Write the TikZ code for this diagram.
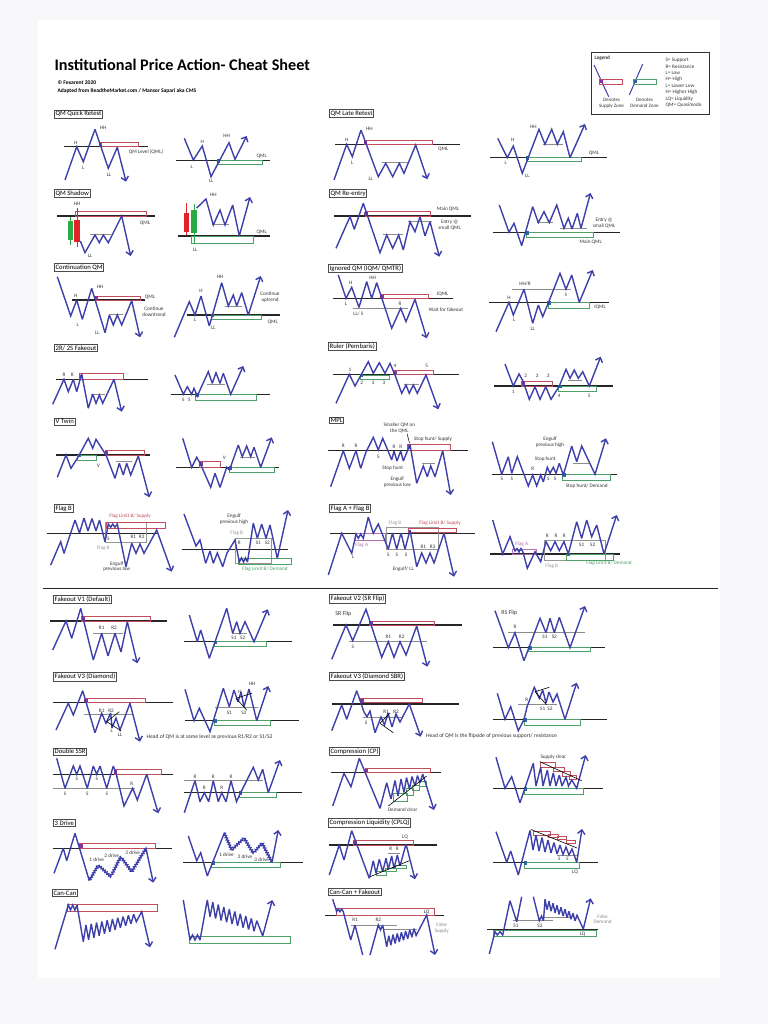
\documentclass[tikz,border=0pt]{standalone}
\usepackage{fontspec}
\setmainfont{Carlito}
\usetikzlibrary{arrows.meta,decorations.pathmorphing}

\definecolor{pblue}{RGB}{62,64,170}
\definecolor{supred}{RGB}{192,78,92}
\definecolor{demgrn}{RGB}{78,160,104}
\definecolor{qmpur}{RGB}{140,50,150}
\definecolor{qmteal}{RGB}{40,105,150}
\definecolor{flaga}{RGB}{178,110,178}
\definecolor{flagb}{RGB}{150,150,150}
\definecolor{cgreen}{RGB}{40,170,70}
\definecolor{cred}{RGB}{225,35,40}
\definecolor{pagebg}{RGB}{248,248,250}

\begin{document}
\begin{tikzpicture}[x=1pt, y=-1pt,
    price/.style={pblue, line width=1.4pt, miter limit=3},
    arr/.style={-{Straight Barb[length=4pt,width=7.5pt]}},
    level/.style={black!85, line width=1.3pt},
    guide/.style={black!45, line width=0.9pt},
    supply/.style={supred, line width=0.8pt},
    demand/.style={demgrn, line width=0.8pt},
    flagA/.style={flaga, line width=0.8pt},
    flagB/.style={flagb, line width=0.8pt},
    qms/.style={fill=qmpur},
    qmd/.style={fill=qmteal},
    trend/.style={black, line width=0.6pt},
    wig/.style={decoration={zigzag, amplitude=0.9pt, segment length=2.6pt}},
    lbl/.style={font=\fontsize{5.2}{5.6}\selectfont, inner sep=0.4pt, text=black!80},
    note/.style={lbl, align=center},
    tag/.style={draw=black!70, line width=0.9pt, font=\fontsize{6.7}{7}\selectfont, inner sep=1.2pt, anchor=west}]

\useasboundingbox (0,0) rectangle (768,1024);
\fill[pagebg] (0,0) rectangle (768,1024);
\fill[white] (38,20) rectangle (720,978);

% Title
\node (title) [anchor=west, font=\fontsize{16.2}{18}\selectfont\bfseries] at (51,65) {Institutional Price Action- Cheat Sheet};
\node (copyr) [anchor=west, font=\fontsize{5.6}{6}\selectfont\bfseries] at (54,82.5) {© Fexarent 2020};
\node (adapt) [anchor=west, font=\fontsize{5.5}{6}\selectfont\bfseries] at (54,91) {Adapted from ReadtheMarket.com / Mansor Sapari aka CMS};

% Legend
\draw[black!80, line width=0.8pt] (591.7,52.7) rectangle (709,114);
\node (legT) [lbl, anchor=west, font=\fontsize{5.2}{5.6}\selectfont\bfseries] at (594,58.5) {Legend};
\draw[price, line width=1pt] (594,65) -- (608.7,96.7);
\draw[supply] (599.3,79.3) rectangle (622.7,84.3);
\fill[qms] (600,80) rectangle +(3,3.5);
\draw[price, line width=1pt] (629.3,95) -- (642.7,64);
\draw[demand] (633.3,79.3) rectangle (656,84.7);
\fill[qmd] (634,80) rectangle +(3,3.5);
\node (legS) [note, font=\fontsize{5}{6}\selectfont] at (611.5,103) {Denotes\\Supply Zone};
\node (legD) [note, font=\fontsize{5}{6}\selectfont] at (644.5,103) {Denotes\\Demand Zone};
\node (legK) [lbl, anchor=north west, align=left, font=\fontsize{5.2}{6.4}\selectfont] at (665,57.8)
  {S= Support\\R= Resistance\\L= Low\\H= High\\L= Lower Low\\H= Higher High\\LQ= Liquidity\\QM= Quasimodo};

% QM Quick Retest
\node (tagQR) [tag] at (54,114) {QM Quick Retest};
\draw[level] (64,146.7) -- (148,146.7);
\draw[supply] (99.3,142.7) rectangle (138.3,146.7);
\fill[qms] (98.5,143.2) rectangle +(3.5,3.5);
\draw[price,arr] (65,180) -- (76.7,146.7) -- (83.3,161.7) -- (95,129.3) -- (108.3,168.3) -- (117.3,147.3) -- (126,181.7);
\node (qrH) [lbl] at (75.7,142.5) {H};
\node (qrL) [lbl] at (83.3,168) {L};
\node (qrHH) [lbl] at (103,128.3) {HH};
\node (qrLL) [lbl] at (109,175) {LL};
\node (qrQML) [lbl] at (146,151.7) {QM Level (QML)};

\draw[level] (176,160.7) -- (270,160.7);
\draw[demand] (217.7,160.7) rectangle (262.7,164.3);
\fill[qmd] (216.7,159.5) rectangle +(3.5,3.5);
\draw[price,arr] (184.3,138.3) -- (193.3,160) -- (202.3,146) -- (211,176.7) -- (229,142.7) -- (235,159.3) -- (246.7,136);
\node (qr2L) [lbl] at (191.7,167.3) {L};
\node (qr2H) [lbl] at (202.3,142) {H};
\node (qr2LL) [lbl] at (211,180.5) {LL};
\node (qr2HH) [lbl] at (226.7,136) {HH};
\node (qr2QML) [lbl] at (261.7,156) {QML};

% QM Late Retest
\node (tagLR) [tag] at (329,113.5) {QM Late Retest};
\draw[level] (335,144.3) -- (460,144.3);
\draw[supply] (364.3,140.7) rectangle (432.7,144.3);
\fill[qms] (363.5,140.8) rectangle +(3.5,3.5);
\draw[guide] (381.7,162.7) -- (408.3,162.7);
\draw[price,arr] (334,180) -- (346.7,144.3) -- (352.3,156.7) -- (361,130) -- (378.3,176.7) -- (385.7,163.3) -- (392.7,176.7) -- (399.3,163.3) -- (404,173.3) -- (415.7,145) -- (427.3,179.3);
\node (lrH) [lbl] at (346.7,139.5) {H};
\node (lrL) [lbl] at (352.3,162.7) {L};
\node (lrHH) [lbl] at (369.3,129.3) {HH};
\node (lrLL) [lbl] at (370.7,179.3) {LL};
\node (lrQML) [lbl] at (443.3,149.3) {QML};

\draw[level] (490,157.7) -- (606.7,157.7);
\draw[demand] (526.7,157.7) rectangle (581.7,161.7);
\fill[qmd] (525.5,156.5) rectangle +(3.5,3.5);
\draw[guide] (542.7,144.3) -- (563.3,144.3);
\draw[price,arr] (497.7,138.3) -- (507.3,157.7) -- (513.3,146) -- (522.3,173.3) -- (539,129.3) -- (545,144.3) -- (551.7,129.3) -- (557.3,144.3) -- (563.3,131.7) -- (570,157.7) -- (585,124);
\node (lr2L) [lbl] at (505.7,163.3) {L};
\node (lr2H) [lbl] at (512.7,140) {H};
\node (lr2LL) [lbl] at (527.3,176) {LL};
\node (lr2HH) [lbl] at (533.3,127.3) {HH};
\node (lr2QML) [lbl] at (594,153.3) {QML};

% QM Shadow
\node (tagQS) [tag] at (54,193.5) {QM Shadow};
\draw[level] (57.3,216) -- (155,216);
\draw[supply] (75,211) rectangle (146.7,216);
\draw[cgreen, line width=0.7pt] (70.2,216.7) -- (70.2,245);
\fill[cgreen] (67.7,220.7) rectangle (72.7,240);
\draw[cred, line width=0.7pt] (77.3,208) -- (77.3,246.7);
\fill[cred] (74.3,220) rectangle (80.3,241.7);
\draw[guide] (90,234.3) -- (110.7,234.3);
\draw[price,arr] (80.3,241) -- (85,252.7) -- (95,235) -- (99.3,242.7) -- (103.3,235) -- (108.3,242.7) -- (121.7,216) -- (130.7,256);
\node (qsHH) [lbl] at (77,204) {HH};
\node (qsLL) [lbl] at (90,256) {LL};
\node (qsQML) [lbl] at (145,222.7) {QML};

\draw[level] (177.7,236) -- (270,236);
\draw[demand] (191.7,236) rectangle (253.3,243.3);
\draw[cred, line width=0.7pt] (186.7,203) -- (186.7,235);
\fill[cred] (184,212.7) rectangle (189.3,231.7);
\draw[cgreen, line width=0.7pt] (194,204) -- (194,243.3);
\fill[cgreen] (191.3,210) rectangle (196.7,233.3);
\draw[guide] (211.7,224.3) -- (229.3,224.3);
\draw[price,arr] (196.7,208) -- (206,199) -- (213.3,225) -- (220,210) -- (225,225) -- (232.7,205) -- (239.3,236) -- (250,197);
\node (qs2HH) [lbl] at (213.3,195) {HH};
\node (qs2LL) [lbl] at (195,250) {LL};
\node (qs2QML) [lbl] at (261.7,231.7) {QML};

% QM Re-entry
\node (tagRE) [tag] at (329,193.5) {QM Re-entry};
\draw[level] (334,216) -- (470.7,216);
\draw[supply] (365,211.7) rectangle (430,216);
\fill[qms] (364.3,212) rectangle +(3.5,3.5);
\draw[guide] (383.3,234.3) -- (403.3,234.3);
\draw[guide] (408.3,221) -- (431.7,221);
\draw[price,arr] (336,248.3) -- (350,216.7) -- (354.3,229.3) -- (363.3,203.3) -- (380,252.7) -- (386.7,235) -- (392.7,248.3) -- (398.7,235) -- (403.3,250) -- (410,221.7) -- (415,231.7) -- (420,216.7) -- (425,236) -- (430,221.7) -- (439.3,256.7);
\node (reMain) [lbl] at (448,209.3) {Main QML};
\node (reEntry) [note] at (449.5,225) {Entry @\\small QML};

\draw[level] (492.7,232.3) -- (620,232.3);
\draw[demand] (526.7,232.3) rectangle (593.3,237.3);
\fill[qmd] (525.8,231) rectangle +(3.5,3.5);
\draw[guide] (536.7,222.7) -- (553.3,222.7);
\draw[guide] (560,228.3) -- (586.7,228.3);
\draw[price,arr] (499.3,205) -- (509,232.3) -- (514,223.3) -- (521.7,245.7) -- (532.7,206.7) -- (538.3,222.7) -- (544,211.7) -- (549.3,222.7) -- (556.7,205) -- (564,228.3) -- (568.3,218.3) -- (572,229) -- (577.3,213.3) -- (581,228.3) -- (590.5,193);
\node (re2Entry) [note] at (604,223) {Entry @\\small QML};
\node (re2Main) [lbl] at (590.7,242) {Main QML};

% Continuation QM
\node (tagCQ) [tag] at (54,267.5) {Continuation QM};
\draw[level] (72.3,300) -- (145,300);
\draw[supply] (96,296) rectangle (140,300);
\fill[qms] (94.8,296.3) rectangle +(3.5,3.5);
\draw[guide] (109,314.3) -- (123.3,314.3);
\draw[price,arr] (57.3,276.7) -- (70.7,316) -- (76.7,300) -- (82.3,319.3) -- (91.7,288.3) -- (105,332.7) -- (109.3,315) -- (113.3,325) -- (117.3,315) -- (121.7,325) -- (131.7,300.7) -- (140,337.3);
\node (cqH) [lbl] at (75.7,296) {H};
\node (cqHH) [lbl] at (100,287.3) {HH};
\node (cqL) [lbl] at (77.7,325) {L};
\node (cqLL) [lbl] at (97.3,333) {LL};
\node (cqQML) [lbl] at (150,297.3) {QML};
\node (cqCont) [note] at (154,312) {Continue\\downtrend};

\draw[level] (186.7,315) -- (280,315);
\draw[demand] (211.7,315) rectangle (261.7,319.3);
\fill[qmd] (210.5,313.5) rectangle +(3.5,3.5);
\draw[guide] (225,306) -- (241.7,306);
\draw[price,arr] (174.3,337.3) -- (189.3,301.7) -- (195,315) -- (201,296) -- (209.3,326) -- (221.7,282.7) -- (228.3,306) -- (233.3,295) -- (236.7,306) -- (241.7,292.7) -- (248.3,315) -- (260.7,276);
\node (cq2H) [lbl] at (201,290.7) {H};
\node (cq2L) [lbl] at (195,320) {L};
\node (cq2LL) [lbl] at (213.3,328.3) {LL};
\node (cq2HH) [lbl] at (220,277.3) {HH};
\node (cq2Cont) [note] at (270,297.3) {Continue\\uptrend};
\node (cq2QML) [lbl] at (272.7,321.7) {QML};

% Ignored QM
\node (tagIQ) [tag] at (328,268.5) {Ignored QM (IQM/ QMTR)};
\draw[level] (332.7,298.3) -- (453.3,298.3);
\draw[supply] (381,294.3) rectangle (428.3,298.3);
\fill[qms] (380.3,294.6) rectangle +(3.5,3.5);
\draw[guide] (352.7,308.3) -- (408.3,308.3);
\draw[price,arr] (338.3,275) -- (346,298.3) -- (351.7,287.3) -- (359,307.3) -- (366.7,281.7) -- (371.7,298.3) -- (376.7,282.7) -- (391.7,328.3) -- (400.7,308.3) -- (406,321.7) -- (415,299.3) -- (426.7,338.3);
\node (iqL) [lbl] at (346,304) {L};
\node (iqH) [lbl] at (350.7,282.7) {H};
\node (iqHH) [lbl] at (372.7,278.3) {HH};
\node (iqLLS) [lbl] at (358.3,314) {LL/ S};
\node (iqR) [lbl] at (400,304) {R};
\node (iqIQML) [lbl] at (442.7,294.3) {IQML};
\node (iqWait) [lbl] at (446,310) {Wait for fakeout};

\draw[level] (489.3,302.3) -- (609.3,302.3);
\draw[guide] (511.7,289) -- (570.7,289);
\draw[demand] (548.3,302.3) rectangle (589.3,308.3);
\fill[qmd] (547.3,301) rectangle +(3.5,3.5);
\draw[price,arr] (496,331.7) -- (509,302.3) -- (513.3,315) -- (524,289.3) -- (532.7,323.3) -- (538.3,305) -- (542.7,316.7) -- (548.3,303) -- (560,273.3) -- (566,289.3) -- (571.7,275) -- (579.3,302.3) -- (592.7,270);
\node (iq2H) [lbl] at (509,297.7) {H};
\node (iq2L) [lbl] at (514.3,320) {L};
\node (iq2HHR) [lbl] at (525,284) {HH/R};
\node (iq2LL) [lbl] at (532.7,329.3) {LL};
\node (iq2S) [lbl] at (565.7,295) {S};
\node (iq2IQML) [lbl] at (600,307.3) {IQML};

% 2R/ 2S Fakeout
\node (tagRS) [tag] at (54,348) {2R/ 2S Fakeout};
\draw[level] (56,379.3) -- (148.3,379.3);
\draw[supply] (79.3,373.3) rectangle (123.3,379.3);
\fill[qms] (79.5,374.5) rectangle +(3.5,3.5);
\draw[guide] (90.7,394.3) -- (105,394.3);
\draw[price,arr] (52.7,404.3) -- (64,379.3) -- (68.3,391.7) -- (73.3,379.3) -- (76.7,391.7) -- (81.7,374) -- (88.3,408.3) -- (92.7,394) -- (96,403.3) -- (99.3,395) -- (102.7,403.3) -- (114,379.3) -- (121.7,411.7);
\node (rsR1) [lbl] at (64,375) {R};
\node (rsR2) [lbl] at (72.3,375) {R};

\draw[level] (171,394.3) -- (270,394.3);
\draw[demand] (195,394.3) rectangle (256,400);
\fill[qmd] (195,393) rectangle +(3.5,3.5);
\draw[guide] (206.7,384.3) -- (225,384.3);
\draw[price,arr] (175,375) -- (183.3,394.3) -- (187.3,386.7) -- (191.7,394.3) -- (194,388.3) -- (197.3,396) -- (208.3,371.7) -- (212.3,383.3) -- (216,372.7) -- (220,383.3) -- (223.3,373.3) -- (230.7,394.3) -- (243.3,366);
\node (rs2S1) [lbl] at (183.3,399.5) {S};
\node (rs2S2) [lbl] at (189.3,399.5) {S};

% Ruler (Pembaris)
\node (tagRU) [tag] at (328,346.5) {Ruler (Pembaris)};
\draw[level] (332.7,374.3) -- (459.3,374.3);
\draw[demand] (360,375) rectangle (389.3,379.3);
\draw[supply] (393.3,370) rectangle (433.3,374.3);
\fill[qmd] (359.5,373.5) rectangle +(3.5,3.5);
\fill[qms] (393,370.5) rectangle +(3.5,3.5);
\draw[guide] (404,384.3) -- (419.3,384.3);
\draw[price,arr] (336,403.3) -- (349.3,374.3) -- (355,386) -- (361,375) -- (368.3,361.7) -- (373.3,373.3) -- (379.3,362.7) -- (385,373.3) -- (390,363.3) -- (395,375) -- (401.7,393.3) -- (406,385) -- (409.3,393.3) -- (413.3,385) -- (417.3,393.3) -- (426,375) -- (438.3,409.3);
\node (ru1) [lbl] at (350,370.3) {1};
\node (ru2) [lbl] at (361.7,383.3) {2};
\node (ru3a) [lbl] at (373.3,383.3) {3};
\node (ru3b) [lbl] at (384,383.3) {3};
\node (ru4) [lbl] at (395,366) {4};
\node (ru5) [lbl] at (426.7,366) {5};

\draw[level] (494.3,386) -- (613.3,386);
\draw[supply] (521.7,381.7) rectangle (552.3,386);
\draw[demand] (558.3,386) rectangle (596,391.7);
\fill[qms] (521.5,382) rectangle +(3.5,3.5);
\fill[qmd] (558,384.5) rectangle +(3.5,3.5);
\draw[guide] (568.3,380.7) -- (581.7,380.7);
\draw[price,arr] (505,364) -- (513.3,386) -- (519,374) -- (523,381) -- (529.3,399.3) -- (535,386.7) -- (540,399.3) -- (545.7,386.7) -- (551,399.3) -- (559.3,386) -- (566,369.3) -- (570,378.3) -- (574.3,370) -- (578.3,378.3) -- (582.7,371.7) -- (589.3,386) -- (600.7,356.7);
\node (ru21) [lbl] at (513.3,392.3) {1};
\node (ru22) [lbl] at (525.7,376) {2};
\node (ru23a) [lbl] at (537.3,376) {3};
\node (ru23b) [lbl] at (548.3,376) {3};
\node (ru24) [lbl] at (559.3,396) {4};
\node (ru25) [lbl] at (589.3,396) {5};

% V Twin
\node (tagVT) [tag] at (54,421.5) {V Twin};
\draw[level] (56,455) -- (150,455);
\draw[demand] (77.7,455) rectangle (96,460);
\draw[supply] (105,450.7) rectangle (144,455);
\fill[qmd] (77.5,453.5) rectangle +(3.5,3.5);
\fill[qms] (104.5,451) rectangle +(3.5,3.5);
\draw[guide] (116,461.7) -- (131.7,461.7);
\draw[price,arr] (57.3,477.3) -- (66,455) -- (71,468.3) -- (78.3,456.7) -- (88.3,438.3) -- (92.7,448.3) -- (96,439.3) -- (106,455) -- (115,478.3) -- (119.3,463.3) -- (123.3,475) -- (126.7,463.3) -- (130.7,475) -- (138.3,456) -- (149.3,497.3);
\node (vtV) [lbl] at (98.3,466) {V};

\draw[level] (176,467.3) -- (279.3,467.3);
\draw[supply] (199.3,461.7) rectangle (220,467.3);
\draw[demand] (229.3,467.3) rectangle (274,472.7);
\fill[qms] (199,462) rectangle +(3.5,3.5);
\fill[qmd] (228.5,466) rectangle +(3.5,3.5);
\draw[guide] (240,457.3) -- (255,457.3);
\draw[price,arr] (182.7,438.3) -- (191.7,467.3) -- (196.7,457.3) -- (200,463) -- (210.7,487.3) -- (215,473.3) -- (220,487.3) -- (226.7,467.3) -- (229.5,470) -- (238.3,445) -- (242.3,456.7) -- (246.7,446) -- (250.7,456.7) -- (254,447.3) -- (260.7,467.3) -- (271.7,437.3);
\node (vt2V) [lbl] at (224.3,458.3) {V};

% MPL
\node (tagMP) [tag] at (329,420.5) {MPL};
\draw[level] (328.3,450.7) -- (468.3,450.7);
\draw[supply] (407.3,444) rectangle (450.7,450.7);
\fill[qms] (407.5,445) rectangle +(3.5,3.5);
\draw[guide] (421.7,463.3) -- (435,463.3);
\draw[price,arr] (330.7,486.7) -- (343.3,450.7) -- (349.3,468.3) -- (356,450.7) -- (360.7,468.3) -- (366,452) -- (373.3,437.3) -- (378.3,450) -- (382.7,438.3) -- (387.7,450) -- (391.7,460) -- (394,451) -- (397,461) -- (400.7,451) -- (403.3,461) -- (410,444.5) -- (416.7,483.3) -- (423.3,466) -- (427.3,476.7) -- (430.7,466) -- (435,476.7) -- (442.7,450.7) -- (450.7,495);
\node (mpR1) [lbl] at (343.3,446) {R};
\node (mpR2) [lbl] at (356,446) {R};
\node (mpS) [lbl] at (378.3,456.7) {S};
\node (mpR3) [lbl] at (394,447.3) {R};
\node (mpR4) [lbl] at (400.7,447.3) {R};
\node (mpSmall) [note] at (399.3,428) {Smaller QM on\\the QML};
\draw[black, line width=0.5pt] (407,433.5) -- (409.5,443);
\node (mpHunt) [lbl] at (433,439.3) {Stop hunt/ Supply};
\node (mpStop) [lbl] at (392.7,468.3) {Stop hunt};
\node (mpEng) [note] at (397.3,482) {Engulf\\previous low};

\draw[level] (491.7,474.3) -- (616.7,474.3);
\draw[demand] (562.7,474.3) rectangle (610,480);
\fill[qmd] (562,473) rectangle +(3.5,3.5);
\draw[guide] (572.7,463.3) -- (589.3,463.3);
\draw[price,arr] (492.3,441.7) -- (501.7,474.3) -- (508.3,456.7) -- (511.7,473.3) -- (517.3,456.7) -- (528.3,486) -- (532.7,475) -- (536.7,486) -- (540.7,475) -- (543.3,482) -- (547.3,467.3) -- (550,473.3) -- (553.3,467.3) -- (556,473.3) -- (559.3,463.3) -- (563.3,475) -- (571.7,446) -- (576.7,461.7) -- (581.7,446) -- (595,474.3) -- (606,438.3);
\node (mp2S1) [lbl] at (501.7,479) {S};
\node (mp2S2) [lbl] at (511.7,479) {S};
\node (mp2R) [lbl] at (532.7,469.3) {R};
\node (mp2S3) [lbl] at (548.3,479) {S};
\node (mp2S4) [lbl] at (555,479) {S};
\node (mp2Eng) [note] at (550,442) {Engulf\\previous high};
\node (mp2Stop) [lbl] at (545.3,458.7) {Stop hunt};
\node (mp2Hunt) [lbl] at (586.7,486) {Stop hunt/ Demand};

% Flag B
\node (tagFB) [tag] at (54,508.5) {Flag B};
\draw[level] (47.3,533.3) -- (156.7,533.3);
\draw[flagB] (105,522.7) rectangle (146,542.7);
\draw[supply] (106.7,522.7) rectangle (165,528.3);
\draw[price,arr] (50.7,565) -- (60.7,541.7) -- (64,553.3) -- (75,520) -- (79.5,533) -- (84,518) -- (88,531) -- (92,518.5) -- (96,531) -- (99.5,520) -- (105,541.7) -- (108.3,524) -- (110.7,527.3) -- (112.7,524) -- (115,527.3) -- (117.3,524) -- (126,566.7) -- (131.7,543.3) -- (136,553.3) -- (140,544) -- (144,553.3) -- (156.7,530) -- (171.7,571.7);
\node (fbLim) [lbl, text=supred] at (130,516) {Flag Limit B/ Supply};
\node (fbS) [lbl] at (108.3,539.3) {S};
\node (fbR1) [lbl] at (133.3,537.3) {R1};
\node (fbR2) [lbl] at (141.7,537.3) {R2};
\node (fbFlag) [lbl, text=flagb] at (103.3,548.3) {Flag B};
\node (fbEng) [note] at (116.7,566.5) {Engulf\\previous low};

\draw[level] (181.7,549.3) -- (288.3,549.3);
\draw[flagB] (235,538.3) rectangle (271.7,563.3);
\draw[demand] (238.3,558.3) rectangle (291.7,564.3);
\draw[price,arr] (184,514) -- (196,546) -- (200,540) -- (205.7,563.3) -- (210,551) -- (213.3,563.3) -- (217.3,553) -- (222.7,566.7) -- (227,553) -- (235,540) -- (239.3,562) -- (241.5,558) -- (243.5,562) -- (245.5,558) -- (247.5,562) -- (253.3,523) -- (257.3,538.3) -- (261.7,524) -- (266,538.3) -- (270,525) -- (277.3,558.3) -- (288,510);
\node (fb2Eng) [note] at (234,519) {Engulf\\previous high};
\node (fb2Flag) [lbl, text=flagb] at (236.7,533.3) {Flag B};
\node (fb2R) [lbl] at (239.3,542.7) {R};
\node (fb2S1) [lbl] at (258.3,542.7) {S1};
\node (fb2S2) [lbl] at (267.3,542.7) {S2};
\node (fb2Lim) [lbl, text=demgrn] at (265,569.5) {Flag Limit B/ Demand};

% Flag A + Flag B
\node (tagFAB) [tag] at (329,508.5) {Flag A + Flag B};
\draw[level] (330,533.3) -- (475,533.3);
\draw[flagA] (355,533.3) rectangle (385,540);
\draw[flagB] (386.7,527.3) rectangle (438.3,549.3);
\draw[supply] (408.3,528.3) rectangle (456.7,532.7);
\draw[price,arr] (328.3,575) -- (341.7,533.3) -- (351.7,553.3) -- (356,534) -- (358.3,538.3) -- (360.7,534) -- (363.3,538.3) -- (368.3,517) -- (373.3,533.3) -- (378.3,524) -- (388.3,549.3) -- (392.5,533) -- (396.7,549.3) -- (401,533) -- (405,549.3) -- (410,530) -- (416.7,566.7) -- (421.7,553) -- (426,563) -- (430,553) -- (434,563) -- (444,533.3) -- (454,576.7);
\node (fabFlagB) [lbl, text=flagb] at (395,523.3) {Flag B};
\node (fabLim) [lbl, text=supred] at (440,522.7) {Flag Limit B/ Supply};
\node (fabFlagA) [lbl, text=flaga] at (361.7,545) {Flag A};
\node (fabL) [lbl] at (353.3,557.3) {L};
\node (fabS1) [lbl] at (388.3,555) {S};
\node (fabS2) [lbl] at (396.7,555) {S};
\node (fabS3) [lbl] at (406,555) {S};
\node (fabR1) [lbl] at (423.3,546.7) {R1};
\node (fabR2) [lbl] at (432.7,546.7) {R2};
\node (fabEng) [lbl] at (403.3,569.3) {Engulf/ LL};

\draw[level] (490,554) -- (620,554);
\draw[flagA] (512.7,549) rectangle (536.7,554);
\draw[flagB] (544,540) rectangle (605,560);
\draw[demand] (566.7,554) rectangle (613.3,560);
\fill[qmd] (566.5,552.5) rectangle +(3.5,3.5);
\draw[price,arr] (492.7,520) -- (502.7,554) -- (510,536.7) -- (515,551) -- (517,548.5) -- (519,552) -- (521,548.5) -- (523,552) -- (527.3,568.3) -- (535,551.7) -- (540.7,561.7) -- (546,541.7) -- (550.7,550.7) -- (555,541.7) -- (559.3,550.7) -- (564,541.7) -- (568.3,554) -- (576.7,521.7) -- (581.7,538.3) -- (586.7,520) -- (591.7,536.7) -- (596.7,525) -- (604,554) -- (616.7,515);
\node (fab2FlagA) [lbl, text=flaga] at (521.7,544) {Flag A};
\node (fab2R1) [lbl] at (547.3,536) {R};
\node (fab2R2) [lbl] at (556,536) {R};
\node (fab2R3) [lbl] at (564.3,536) {R};
\node (fab2S1) [lbl] at (581.7,545) {S1};
\node (fab2S2) [lbl] at (592.7,545) {S2};
\node (fab2FlagB) [lbl, text=flagb] at (551.7,566) {Flag B};
\node (fab2Lim) [lbl, text=demgrn] at (609,563.5) {Flag Limit B/ Demand};

% Divider
\draw[black!85, line width=0.9pt] (43,588) -- (718,588);

% Fakeout V1 (Default)
\node (tagF1) [tag] at (53,599.5) {Fakeout V1 (Default)};
\draw[level] (50,621) -- (166.7,621);
\draw[supply] (81.7,616.7) rectangle (150,621);
\fill[qms] (81.5,617) rectangle +(3.5,3.5);
\draw[guide] (93.3,633.3) -- (123.3,633.3);
\draw[price,arr] (52.7,650) -- (66,621) -- (71.7,638.3) -- (80.7,608.3) -- (93.3,660) -- (101.7,633.3) -- (108,656) -- (115,633.3) -- (121,652) -- (127.3,621.7) -- (137.3,663.3);
\node (f1R1) [lbl] at (101.7,628.3) {R1};
\node (f1R2) [lbl] at (114,628.3) {R2};

\draw[level] (184.3,641.7) -- (291.7,641.7);
\draw[demand] (214,641.7) rectangle (266.7,646.7);
\fill[qmd] (213.5,640.5) rectangle +(3.5,3.5);
\draw[guide] (231.7,633.3) -- (246.7,633.3);
\draw[price,arr] (189.3,615) -- (197.3,641.7) -- (200.7,630) -- (209.3,658.3) -- (226.7,608.3) -- (232.7,633.3) -- (236.7,621.7) -- (240,633.3) -- (245,621.7) -- (254,641.7) -- (267.7,609.3);
\node (f1S1) [lbl] at (234,637.7) {S1};
\node (f1S2) [lbl] at (242.7,637.7) {S2};

% Fakeout V2 (SR Flip)
\node (tagF2) [tag] at (329,599) {Fakeout V2 (SR Flip)};
\node (f2SR) [lbl, font=\fontsize{6}{6.5}\selectfont] at (343.3,614) {SR Flip};
\draw[level] (332.7,625) -- (461.7,625);
\draw[supply] (369.3,621) rectangle (434,625);
\fill[qms] (369,621.3) rectangle +(3.5,3.5);
\draw[guide] (349.3,641.7) -- (427.3,641.7);
\draw[price,arr] (331.7,659.3) -- (346,625) -- (352.7,640.7) -- (366,609.3) -- (381.7,657.3) -- (388.3,641.7) -- (394,657.3) -- (400,641.7) -- (406,655) -- (416.7,626) -- (427.3,666.7);
\node (f2S) [lbl] at (352.7,646.7) {S};
\node (f2R1) [lbl] at (388.3,637.3) {R1};
\node (f2R2) [lbl] at (401.7,637.3) {R2};

\node (f2RS) [lbl, font=\fontsize{6}{6.5}\selectfont] at (509.3,612.7) {RS Flip};
\draw[level] (492.7,647.7) -- (605,647.7);
\draw[guide] (508.3,632.7) -- (585,632.7);
\draw[demand] (528.3,647.7) rectangle (590,651.7);
\fill[qmd] (528,646.3) rectangle +(3.5,3.5);
\draw[price,arr] (495,610.7) -- (508.3,647.7) -- (515,632.7) -- (524,660.7) -- (540,618.3) -- (546,632.7) -- (550,618.3) -- (554.3,632.7) -- (559.3,617.3) -- (570,647.7) -- (585,606);
\node (f2bR) [lbl] at (515,627.3) {R};
\node (f2bS1) [lbl] at (545,637.3) {S1};
\node (f2bS2) [lbl] at (554.3,637.3) {S2};

% Fakeout V3 (Diamond)
\node (tagF3) [tag] at (53,677) {Fakeout V3 (Diamond)};
\draw[level] (52.7,702.7) -- (172.7,702.7);
\draw[supply] (85,698.3) rectangle (145,702.7);
\fill[qms] (84.3,698.6) rectangle +(3.5,3.5);
\draw[guide] (84,714.3) -- (132.7,714.3);
\draw[price,arr] (56,730) -- (68.3,703.3) -- (73.3,715) -- (82.7,690.7) -- (95,732.7) -- (101.7,713.3) -- (106,723.3) -- (110.7,713) -- (112,728) -- (116,718) -- (120,730) -- (130,703.3) -- (140,741.7);
\draw[trend] (106.7,721.7) -- (119.3,711.7);
\draw[trend] (106.7,721.7) -- (121,730.7);
\node (f3R1) [lbl] at (101.7,710.7) {R1};
\node (f3R2) [lbl] at (111,710.7) {R2};
\node (f3L) [lbl] at (111.7,731) {L};
\node (f3LL) [lbl] at (120,735) {LL};
\node (f3Head) [lbl, anchor=west, font=\fontsize{5.6}{6}\selectfont] at (146,737.3) {Head of QM is at same level as previous R1/R2 or S1/S2};

\draw[level] (185,720.7) -- (299.3,720.7);
\draw[guide] (215,707.3) -- (258.3,707.3);
\draw[demand] (214,720.7) rectangle (270,725);
\fill[qmd] (213.5,719.3) rectangle +(3.5,3.5);
\draw[price,arr] (185,689.3) -- (194,720.7) -- (199.3,708.3) -- (210,731.7) -- (223.3,688.3) -- (229.3,706.7) -- (234,690) -- (238,702) -- (241,692) -- (244,706.7) -- (249,689) -- (256.7,720.7) -- (268.3,686);
\draw[trend] (236,698.3) -- (251.7,693.3);
\draw[trend] (236,698.3) -- (246.7,710);
\node (f3bHH) [lbl] at (252,684) {HH};
\node (f3bH) [lbl] at (240,691.7) {H};
\node (f3bS1) [lbl] at (229.3,713.3) {S1};
\node (f3bS2) [lbl] at (244,713.3) {S2};

% Fakeout V3 (Diamond SBR)
\node (tagF3S) [tag] at (329,676.5) {Fakeout V3 (Diamond SBR)};
\draw[level] (331.7,704) -- (459.3,704);
\draw[supply] (360,698.3) rectangle (422.7,702.7);
\fill[qms] (360,699) rectangle +(3.5,3.5);
\draw[guide] (362.7,717.3) -- (402.7,717.3);
\draw[price,arr] (331.7,730.7) -- (341.7,705) -- (346.7,719.3) -- (356.7,690.7) -- (364,712) -- (367,716.7) -- (370,711) -- (375,732.7) -- (381,717) -- (384.5,725) -- (388,713) -- (392,727) -- (396,714) -- (400,722) -- (409.3,704) -- (420.7,736.7);
\draw[trend] (380,723.3) -- (390,713);
\draw[trend] (380,723.3) -- (393.3,732.7);
\node (f3sS) [lbl] at (366,722.7) {S};
\node (f3sR1) [lbl] at (386,711.7) {R1};
\node (f3sR2) [lbl] at (396,711.7) {R2};
\node (f3sHead) [lbl, anchor=west, font=\fontsize{5.6}{6}\selectfont] at (425.5,736) {Head of QM is the flipside of previous support/ resistance};

\draw[level] (492.7,719.3) -- (606.7,719.3);
\draw[guide] (518.3,704) -- (556.7,704);
\draw[demand] (524,719.3) rectangle (580.7,725);
\fill[qmd] (523,718) rectangle +(3.5,3.5);
\draw[price,arr] (497.3,693.3) -- (505,719.3) -- (510.7,706.7) -- (518.3,730.7) -- (524,719.5) -- (527,707) -- (534.3,687.3) -- (539.3,698.3) -- (542.7,690) -- (546,703) -- (549,692) -- (553,702) -- (557,694) -- (565,719.3) -- (576.7,682.7);
\draw[trend] (535,691.7) -- (549.3,687.3);
\draw[trend] (535,691.7) -- (546.7,705);
\node (f3s2R) [lbl] at (526.7,700) {R};
\node (f3s2S1) [lbl] at (542.7,709.3) {S1};
\node (f3s2S2) [lbl] at (550,709.3) {S2};

% Double SSR
\node (tagDS) [tag] at (53,751.5) {Double SSR};
\draw[level] (52.7,774.3) -- (173.3,774.3);
\draw[guide] (52.7,788.3) -- (135,788.3);
\draw[supply] (114,769.3) rectangle (161.7,774.3);
\fill[qms] (113.5,770) rectangle +(3.5,3.5);
\draw[price,arr] (56.7,758.3) -- (65,788.3) -- (73.3,766) -- (76.7,774.3) -- (80,766) -- (87.3,788.3) -- (93.3,766) -- (96.7,774.3) -- (100,766) -- (106.7,788.3) -- (113.3,766) -- (116,773) -- (124,806) -- (132.7,788.3) -- (137.3,800) -- (146.7,774.3) -- (158.3,813.3);
\node (dsS1) [lbl] at (65,794) {S};
\node (dsS2) [lbl] at (87.3,794) {S};
\node (dsS3) [lbl] at (106.7,794) {S};
\node (dsS4) [lbl] at (76.7,779.3) {S};
\node (dsS5) [lbl] at (96.7,779.3) {S};
\node (dsR) [lbl] at (131.7,784) {R};

\draw[level] (184.3,792.7) -- (301.7,792.7);
\draw[guide] (184.3,780.7) -- (262.7,780.7);
\draw[demand] (239,792.7) rectangle (276,797.3);
\fill[qmd] (238.5,791.3) rectangle +(3.5,3.5);
\draw[price,arr] (184.3,812.7) -- (195,780.7) -- (200,801.7) -- (204.3,792.7) -- (208.7,801.7) -- (213.3,780.7) -- (218.3,801.7) -- (221.7,792.7) -- (226,801.7) -- (231,780.7) -- (236.5,801.7) -- (240,794) -- (253.3,767.3) -- (258.3,780) -- (262.7,769.3) -- (268.3,792.7) -- (280,760);
\node (ds2R1) [lbl] at (195,776.7) {R};
\node (ds2R2) [lbl] at (213.3,776.7) {R};
\node (ds2R3) [lbl] at (231,776.7) {R};
\node (ds2R4) [lbl] at (204.3,788.3) {R};
\node (ds2R5) [lbl] at (221.7,788.3) {R};

% Compression (CP)
\node (tagCP) [tag] at (329,751.5) {Compression (CP)};
\draw[level] (330.7,772.7) -- (440.7,772.7);
\draw[supply] (365,768.3) rectangle (430,772.7);
\fill[qms] (364.5,768.8) rectangle +(3.5,3.5);
\draw[demand] (393.3,793.3) rectangle (407.3,801.7);
\draw[demand] (406,788.3) rectangle (413.3,795);
\draw[demand] (412.7,785) rectangle (419.3,790);
\draw[demand] (419.3,781.7) rectangle (426,786);
\draw[price,arr] (332.7,806) -- (344,773.3) -- (351,786.7) -- (359.3,758.3) -- (380,808.3) -- (386.7,782.7) -- (391,799) -- (395,780.5) -- (398,796) -- (401,779) -- (404,792.5) -- (406.5,777.5) -- (409.5,789) -- (412,776.5) -- (415,786) -- (417.5,775.5) -- (420,783) -- (422.7,774) -- (434,810);
\draw[trend] (388.3,806) -- (426.7,776);
\node (cpDem) [lbl] at (402.7,810) {Demand clear};

\draw[level] (493.3,788.3) -- (602.7,788.3);
\draw[demand] (524,788.3) rectangle (583.3,794);
\fill[qmd] (523.5,787) rectangle +(3.5,3.5);
\draw[supply] (540,762.7) rectangle (555,767.3);
\draw[supply] (553.3,767.3) rectangle (564,771.7);
\draw[supply] (562.7,771.7) rectangle (570.7,776);
\draw[supply] (569.3,775) rectangle (576,779.3);
\draw[price,arr] (496,757.3) -- (505,788.3) -- (511.7,776.7) -- (520,802.7) -- (533.3,763.3) -- (536,786) -- (540.7,767.3) -- (543,786) -- (547.3,770) -- (550,786) -- (553.3,772.7) -- (556,786) -- (559.3,775) -- (562,786) -- (566,777.3) -- (568.5,786) -- (571.7,780) -- (576.7,788.3) -- (585.7,755);
\draw[trend] (540,761.7) -- (581.7,780.7);
\node (cpSup) [lbl] at (553.3,757.3) {Supply clear};

% 3 Drive
\node (tag3D) [tag] at (53,823) {3 Drive};
\draw[level] (52.7,848.3) -- (171.7,848.3);
\draw[supply] (79.3,843.3) rectangle (155,848.3);
\fill[qms] (79,844) rectangle +(3.5,3.5);
\draw[price,arr] (54,873.3) -- (63.3,848.3) -- (66.7,860.7) -- (75,833.3) -- (89.3,880.7) decorate[wig]{-- (98.3,865) -- (110.7,876.7) -- (120.7,856.7) -- (131.7,871.7) -- (146,848.3)} -- (153.3,882.7);
\node (d3a) [lbl] at (96.7,860) {1 drive};
\node (d3b) [lbl] at (111.7,855.5) {2 drive};
\node (d3c) [lbl] at (132.7,852.5) {3 drive};

\draw[level] (183.3,862.3) -- (303.3,862.3);
\draw[demand] (211.7,862.3) rectangle (280,867.3);
\fill[qmd] (211.5,861) rectangle +(3.5,3.5);
\draw[price,arr] (188.3,836) -- (196.7,860.7) -- (200.7,852.7) -- (207.3,876) -- (224.3,833) decorate[wig]{-- (231.7,850) -- (244,838) -- (253.3,853.3) -- (262,843) -- (272,862.3)} -- (278.3,830);
\node (d3d) [lbl] at (226.5,855) {1 drive};
\node (d3e) [lbl] at (245,857) {2 drive};
\node (d3f) [lbl] at (261.7,859.5) {3 drive};

% Compression Liquidity (CPLQ)
\node (tagCL) [tag] at (328,823) {Compression Liquidity (CPLQ)};
\draw[level] (329.3,845) -- (436.7,845);
\draw[supply] (353.3,840) rectangle (413.3,845);
\fill[qms] (353.3,840.5) rectangle +(3.5,3.5);
\draw[guide] (388.3,853.3) -- (400,853.3);
\draw[demand] (376,871.7) rectangle (386.7,875);
\draw[demand] (385,868.3) rectangle (396,871.7);
\draw[demand] (395,865) rectangle (406,868.3);
\draw[price,arr] (329.3,875) -- (339.3,845) -- (344,860) -- (351.7,830.7) -- (369.3,878.3) -- (373.3,860.7) -- (376,873.3) -- (379.3,859.3) -- (382.7,871.7) -- (386,858.3) -- (388.3,869.3) -- (391.7,856) -- (394,868.3) -- (397.3,855) -- (400,866) -- (406,844) -- (415,879.3);
\draw[trend] (370,876.7) -- (409.3,860.7);
\node (clLQ) [lbl] at (405,837.3) {LQ};
\node (clR1) [lbl] at (390.7,849) {R};
\node (clR2) [lbl] at (397.3,849) {R};

\draw[level] (493.3,862.3) -- (598.3,862.3);
\draw[demand] (524,862.3) rectangle (579.3,868.3);
\fill[qmd] (523.5,861) rectangle +(3.5,3.5);
\draw[supply] (533.3,831.7) rectangle (550,835);
\draw[supply] (548.3,834) rectangle (558.3,837.3);
\draw[supply] (557.3,836.7) rectangle (566.7,839.3);
\draw[supply] (566,840) rectangle (575,843.5);
\draw[guide] (557.3,855) -- (578.3,855);
\draw[price,arr] (496,831.7) -- (506.7,862.3) -- (510.7,851) -- (518.3,875) -- (530,830.5) -- (533,850) -- (536,835) -- (539,851) -- (542,837.5) -- (545,852) -- (548,840) -- (551,853) -- (554,842.5) -- (557,854) -- (560,845) -- (563,854.5) -- (566,847) -- (569,855) -- (572,849) -- (576.7,862.3) -- (582,829);
\draw[trend] (531,829.5) -- (577,848);
\node (cl2S1) [lbl] at (559.3,859.3) {S};
\node (cl2S2) [lbl] at (567.3,859.3) {S};
\node (cl2LQ) [lbl] at (575,872.3) {LQ};

% Can-Can
\node (tagCC) [tag] at (52,893) {Can-Can};
\draw[supply] (67.3,904) rectangle (157.3,911.7);
\draw[price,arr] (55,949.3) -- (68.3,905) -- (70.5,910) -- (72.7,905) -- (74.9,910) -- (77,905) -- (83.3,941.7)
  \foreach \i in {1,...,10} { -- ({80.65+5.3*\i},{926.2-1.2*\i}) -- ({83.3+5.3*\i},{941.7-2*\i}) } -- (141.7,911.7) -- (150,947.3);

\draw[demand] (189.3,936) rectangle (290.7,943.3);
\draw[price,arr] (183.3,900) -- (190,940) -- (192.5,935) -- (195,940) -- (197.5,935) -- (200,940) -- (207.3,900)
  \foreach \i in {1,...,9} { -- ({204.55+5.5*\i},{915+1.8*\i}) -- ({207.3+5.5*\i},{900+2.3*\i}) } -- (262.7,936) -- (272.3,900);

% Can-Can + Fakeout
\node (tagCF) [tag] at (328,892) {Can-Can + Fakeout};
\draw[level] (325,915.7) -- (444,915.7);
\draw[supply] (336.7,908.3) rectangle (434,915);
\draw[guide] (350.7,925) -- (396.7,925);
\draw[guide] (382.7,929.3) -- (417.3,929.3);
\draw[price] (332.7,899.3) -- (336.7,911.7) -- (338.3,909) -- (340,911.7) -- (341.7,909) -- (343.3,911.7) -- (350.7,940) -- (355,925) -- (362.7,955);
\draw[price,arr] (370,955) -- (378.3,925) -- (380.5,930) -- (382.7,925) -- (386.7,946.7)
  \foreach \i in {1,...,7} { -- ({384.6+4.2*\i},{937-1.2*\i}) -- ({386.7+4.2*\i},{946.7-1.6*\i}) } -- (426.7,915) -- (435,955);
\node (cfR1) [lbl] at (355,920) {R1};
\node (cfR2) [lbl] at (378.3,920) {R2};
\node (cfLQ) [lbl] at (426.7,911.7) {LQ};
\node (cfFalse) [note, text=black!45, anchor=west] at (434,928.3) {False\\Supply};

\draw[level] (487.3,929.3) -- (598.3,929.3);
\draw[demand] (493.3,930) rectangle (596.7,936.7);
\draw[guide] (512.7,920.7) -- (553.3,920.7);
\draw[guide] (540,917.3) -- (570.7,917.3);
\draw[price] (489.3,954) -- (495,931.7) -- (497.3,935) -- (500,931.7) -- (502.7,935) -- (510,900.7) -- (516.7,921.7) -- (521.7,896.7);
\draw[price,arr] (533.3,896.7) -- (539.3,920.7) -- (541.5,916) -- (543.5,920.7) -- (545,899.3)
  \foreach \i in {1,...,8} { -- ({543+4*\i},{908+1.6*\i}) -- ({545+4*\i},{899.3+2*\i}) } -- (583.3,929) -- (590.7,898.3);
\node (cf2S1) [lbl] at (516,925.7) {S1};
\node (cf2S2) [lbl] at (540,925.7) {S2};
\node (cf2LQ) [lbl] at (582.7,934) {LQ};
\node (cf2False) [note, text=black!45, anchor=west] at (593,919.3) {False\\Demand};
\end{tikzpicture}
\end{document}
